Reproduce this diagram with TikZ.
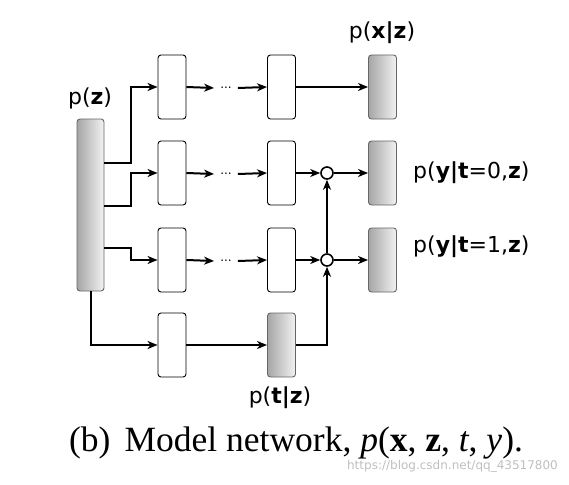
\documentclass[tikz,border=0pt]{standalone}
\usepackage{fontspec}
\setmainfont{Liberation Serif}
\newfontfamily\labfont{DejaVu Sans}
\usetikzlibrary{arrows.meta,calc}
\begin{document}
\begin{tikzpicture}[x=1pt,y=-1pt,
  box/.style={draw=black,line width=0.9pt,rounded corners=3pt,minimum width=28pt,minimum height=64pt,inner sep=0pt,fill=white},
  gbox/.style={draw=black!60,line width=0.9pt,rounded corners=3pt,minimum width=28pt,minimum height=64pt,inner sep=0pt,left color=black!35,right color=black!5},
  mix/.style={circle,draw=black,line width=1.6pt,minimum size=12pt,inner sep=0pt,fill=white},
  arr/.style={line width=2pt,-{Stealth[length=10pt,width=8pt,inset=3pt]}},
  lab/.style={font=\labfont\fontsize{22}{26}\selectfont,inner sep=0pt},
  dots/.style={font=\labfont\fontsize{12}{14}\selectfont,inner sep=0pt}
]
\useasboundingbox (0,0) rectangle (569,484);
% p(z)
\node[gbox,minimum width=27pt,minimum height=172pt] (pz) at (90.5,205) {};
\node[lab] (lpz) at (90,98) {p(\textbf{z})};
% row 1
\node[box] (a1) at (172,87) {};
\node[box] (a2) at (281.5,87) {};
\node[gbox] (ox) at (382.5,87) {};
\node[dots] (da) at (226,88) {...};
\node[lab] (lox) at (382,33) {p(\textbf{x|z})};
% row 2
\node[box] (b1) at (172,173) {};
\node[box] (b2) at (281.5,173) {};
\node[gbox] (o0) at (382.5,173) {};
\node[dots] (db) at (226,174) {...};
\node[mix] (m0) at (327,173) {};
\node[lab,anchor=west] (lo0) at (413,173) {p(\textbf{y|t}=0,\textbf{z})};
% row 3
\node[box] (c1) at (172,260) {};
\node[box] (c2) at (281.5,260) {};
\node[gbox] (o1) at (382.5,260) {};
\node[dots] (dc) at (226,261) {...};
\node[mix] (m1) at (327,260) {};
\node[lab,anchor=west] (lo1) at (413,247) {p(\textbf{y|t}=1,\textbf{z})};
% row 4
\node[box] (d1) at (172,345) {};
\node[gbox] (t) at (281.5,345) {};
\node[lab] (lt) at (280,398) {p(\textbf{t|z})};
% junctions
\coordinate (j1) at (131,163);
\coordinate (j2) at (131,206);
\coordinate (j3) at (131,248);
% connectors from p(z)
\draw[arr] (pz.east |- j1) -- (j1) |- (a1.west);
\draw[arr] (pz.east |- j2) -- (j2) |- (b1.west);
\draw[arr] (pz.east |- j3) -- (j3) |- (c1.west);
\draw[arr] (pz.south) |- (d1.west);
% rows
\draw[arr] (a1.east) -- ($(da.west)+(-6,0)$);
\draw[arr] ($(da.east)+(6,0)$) -- (a2.west);
\draw[arr] (a2.east) -- (ox.west);
\draw[arr] (b1.east) -- ($(db.west)+(-6,0)$);
\draw[arr] ($(db.east)+(6,0)$) -- (b2.west);
\draw[arr] (b2.east) -- (m0.west);
\draw[arr] (m0.east) -- (o0.west);
\draw[arr] (c1.east) -- ($(dc.west)+(-6,0)$);
\draw[arr] ($(dc.east)+(6,0)$) -- (c2.west);
\draw[arr] (c2.east) -- (m1.west);
\draw[arr] (m1.east) -- (o1.west);
\draw[arr] (d1.east) -- (t.west);
\draw[arr] (t.east) -| (m1.south);
\draw[arr] (m1.north) -- (m0.south);
% caption
\node[inner sep=0pt,font=\fontsize{35.5}{40}\selectfont] (cap) at (296,443) {(b)\hspace{0.4em}Model network, \textit{p}(\textbf{x}, \textbf{z}, \textit{t}, \textit{y}).};
\node[inner sep=0pt,anchor=east,text=black!25,font=\labfont\fontsize{12}{14}\selectfont] (wm) at (558,466) {https://blog.csdn.net/qq\_43517800};
\end{tikzpicture}
\end{document}
